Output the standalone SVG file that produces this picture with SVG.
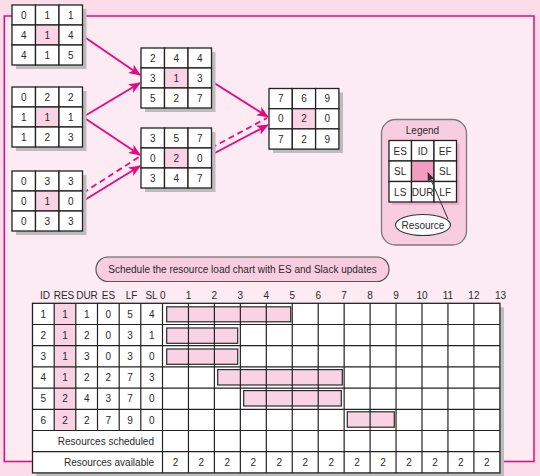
<svg xmlns="http://www.w3.org/2000/svg" width="540" height="476" viewBox="0 0 540 476">
<defs>
<style>
text{font-family:"Liberation Sans",Arial,sans-serif;font-size:10px;fill:#2a2a2a;text-anchor:middle}
.cell{fill:#fff;stroke:#222;stroke-width:1.3}
.mid{fill:#fad3e5;stroke:#222;stroke-width:1.3}
.shadow{fill:#bcbcbc}
.conn{stroke:#e6087f;stroke-width:1.8;fill:none}
.dash{stroke-dasharray:6 4}
.bar{fill:#f9d3e4;stroke:#2a2a2a;stroke-width:1.2}
.gl{stroke:#222;stroke-width:1.2}
</style>
<marker id="ah" markerUnits="userSpaceOnUse" markerWidth="12" markerHeight="10" viewBox="0 0 12 10" refX="11" refY="5" orient="auto">
<path d="M0,0 L12,5 L0,10 L3,5 Z" fill="#e6087f"/>
</marker>
<marker id="ahd" markerUnits="userSpaceOnUse" markerWidth="10" markerHeight="8" viewBox="0 0 10 8" refX="9" refY="4" orient="auto">
<path d="M0,0 L10,4 L0,8 L2.5,4 Z" fill="#333"/>
</marker>
</defs>
<rect x="0" y="0" width="540" height="476" fill="#fbdde9"/>
<rect x="4.3" y="16" width="529.7" height="445.5" fill="#fdebf3" stroke="#e6087f" stroke-width="1.5"/>

<g id="connectors">
<line class="conn" x1="83" y1="36" x2="140" y2="75" marker-end="url(#ah)"/>
<line class="conn" x1="83" y1="117" x2="140" y2="83" marker-end="url(#ah)"/>
<line class="conn" x1="83" y1="117" x2="140" y2="155" marker-end="url(#ah)"/>
<line class="conn dash" x1="83" y1="193" x2="139" y2="157"/>
<line class="conn" x1="83" y1="201" x2="140" y2="166" marker-end="url(#ah)"/>
<line class="conn" x1="211" y1="81" x2="268" y2="117" marker-end="url(#ah)"/>
<line class="conn dash" x1="211" y1="148" x2="267" y2="118"/>
<line class="conn" x1="211" y1="155" x2="268" y2="125" marker-end="url(#ah)"/>
</g>

<g id="node1">
<rect class="shadow" x="16" y="9" width="70.5" height="60"/>
<rect class="cell" x="12" y="5" width="23.5" height="20"/><rect class="cell" x="35.5" y="5" width="23.5" height="20"/><rect class="cell" x="59" y="5" width="23.5" height="20"/>
<rect class="cell" x="12" y="25" width="23.5" height="20"/><rect class="mid" x="35.5" y="25" width="23.5" height="20"/><rect class="cell" x="59" y="25" width="23.5" height="20"/>
<rect class="cell" x="12" y="45" width="23.5" height="20"/><rect class="cell" x="35.5" y="45" width="23.5" height="20"/><rect class="cell" x="59" y="45" width="23.5" height="20"/>
<text x="23.8" y="18.6">0</text><text x="47.3" y="18.6">1</text><text x="70.8" y="18.6">1</text>
<text x="23.8" y="38.6">4</text><text x="47.3" y="38.6">1</text><text x="70.8" y="38.6">4</text>
<text x="23.8" y="58.6">4</text><text x="47.3" y="58.6">1</text><text x="70.8" y="58.6">5</text>
</g>

<g id="node2">
<rect class="shadow" x="16" y="91" width="70.5" height="60"/>
<rect class="cell" x="12" y="87" width="23.5" height="20"/><rect class="cell" x="35.5" y="87" width="23.5" height="20"/><rect class="cell" x="59" y="87" width="23.5" height="20"/>
<rect class="cell" x="12" y="107" width="23.5" height="20"/><rect class="mid" x="35.5" y="107" width="23.5" height="20"/><rect class="cell" x="59" y="107" width="23.5" height="20"/>
<rect class="cell" x="12" y="127" width="23.5" height="20"/><rect class="cell" x="35.5" y="127" width="23.5" height="20"/><rect class="cell" x="59" y="127" width="23.5" height="20"/>
<text x="23.8" y="100.6">0</text><text x="47.3" y="100.6">2</text><text x="70.8" y="100.6">2</text>
<text x="23.8" y="120.6">1</text><text x="47.3" y="120.6">1</text><text x="70.8" y="120.6">1</text>
<text x="23.8" y="140.6">1</text><text x="47.3" y="140.6">2</text><text x="70.8" y="140.6">3</text>
</g>

<g id="node3">
<rect class="shadow" x="16" y="175" width="70.5" height="60"/>
<rect class="cell" x="12" y="171" width="23.5" height="20"/><rect class="cell" x="35.5" y="171" width="23.5" height="20"/><rect class="cell" x="59" y="171" width="23.5" height="20"/>
<rect class="cell" x="12" y="191" width="23.5" height="20"/><rect class="mid" x="35.5" y="191" width="23.5" height="20"/><rect class="cell" x="59" y="191" width="23.5" height="20"/>
<rect class="cell" x="12" y="211" width="23.5" height="20"/><rect class="cell" x="35.5" y="211" width="23.5" height="20"/><rect class="cell" x="59" y="211" width="23.5" height="20"/>
<text x="23.8" y="184.6">0</text><text x="47.3" y="184.6">3</text><text x="70.8" y="184.6">3</text>
<text x="23.8" y="204.6">0</text><text x="47.3" y="204.6">1</text><text x="70.8" y="204.6">0</text>
<text x="23.8" y="224.6">0</text><text x="47.3" y="224.6">3</text><text x="70.8" y="224.6">3</text>
</g>

<g id="node4">
<rect class="shadow" x="145" y="52" width="70.5" height="60"/>
<rect class="cell" x="141" y="48" width="23.5" height="20"/><rect class="cell" x="164.5" y="48" width="23.5" height="20"/><rect class="cell" x="188" y="48" width="23.5" height="20"/>
<rect class="cell" x="141" y="68" width="23.5" height="20"/><rect class="mid" x="164.5" y="68" width="23.5" height="20"/><rect class="cell" x="188" y="68" width="23.5" height="20"/>
<rect class="cell" x="141" y="88" width="23.5" height="20"/><rect class="cell" x="164.5" y="88" width="23.5" height="20"/><rect class="cell" x="188" y="88" width="23.5" height="20"/>
<text x="152.8" y="61.6">2</text><text x="176.3" y="61.6">4</text><text x="199.8" y="61.6">4</text>
<text x="152.8" y="81.6">3</text><text x="176.3" y="81.6">1</text><text x="199.8" y="81.6">3</text>
<text x="152.8" y="101.6">5</text><text x="176.3" y="101.6">2</text><text x="199.8" y="101.6">7</text>
</g>

<g id="node5">
<rect class="shadow" x="145" y="132" width="70.5" height="60"/>
<rect class="cell" x="141" y="128" width="23.5" height="20"/><rect class="cell" x="164.5" y="128" width="23.5" height="20"/><rect class="cell" x="188" y="128" width="23.5" height="20"/>
<rect class="cell" x="141" y="148" width="23.5" height="20"/><rect class="mid" x="164.5" y="148" width="23.5" height="20"/><rect class="cell" x="188" y="148" width="23.5" height="20"/>
<rect class="cell" x="141" y="168" width="23.5" height="20"/><rect class="cell" x="164.5" y="168" width="23.5" height="20"/><rect class="cell" x="188" y="168" width="23.5" height="20"/>
<text x="152.8" y="141.6">3</text><text x="176.3" y="141.6">5</text><text x="199.8" y="141.6">7</text>
<text x="152.8" y="161.6">0</text><text x="176.3" y="161.6">2</text><text x="199.8" y="161.6">0</text>
<text x="152.8" y="181.6">3</text><text x="176.3" y="181.6">4</text><text x="199.8" y="181.6">7</text>
</g>

<g id="node6">
<rect class="shadow" x="273" y="92.5" width="70" height="60.5"/>
<rect class="cell" x="269" y="88.5" width="23.3" height="20.2"/><rect class="cell" x="292.3" y="88.5" width="23.3" height="20.2"/><rect class="cell" x="315.6" y="88.5" width="23.3" height="20.2"/>
<rect class="cell" x="269" y="108.7" width="23.3" height="20.2"/><rect class="mid" x="292.3" y="108.7" width="23.3" height="20.2"/><rect class="cell" x="315.6" y="108.7" width="23.3" height="20.2"/>
<rect class="cell" x="269" y="128.9" width="23.3" height="20.2"/><rect class="cell" x="292.3" y="128.9" width="23.3" height="20.2"/><rect class="cell" x="315.6" y="128.9" width="23.3" height="20.2"/>
<text x="280.7" y="102.2">7</text><text x="304" y="102.2">6</text><text x="327.3" y="102.2">9</text>
<text x="280.7" y="122.4">0</text><text x="304" y="122.4">2</text><text x="327.3" y="122.4">0</text>
<text x="280.7" y="142.6">7</text><text x="304" y="142.6">2</text><text x="327.3" y="142.6">9</text>
</g>

<g id="legend">
<rect x="381.5" y="119.5" width="85" height="125.5" rx="14" fill="#f9cde0" stroke="#7a7a7a" stroke-width="1.3"/>
<text x="422.5" y="134">Legend</text>
<rect x="392" y="143.5" width="67.5" height="61.5" fill="#f4aac9"/>
<rect class="cell" x="389" y="140.5" width="22.5" height="20.5"/><rect class="cell" x="411.5" y="140.5" width="22.5" height="20.5"/><rect class="cell" x="434" y="140.5" width="22.5" height="20.5"/>
<rect class="cell" x="389" y="161" width="22.5" height="20.5"/><rect x="411.5" y="161" width="22.5" height="20.5" fill="#f49bc0" stroke="#222" stroke-width="1.3"/><rect class="cell" x="434" y="161" width="22.5" height="20.5"/>
<rect class="cell" x="389" y="181.5" width="22.5" height="20.5"/><rect class="cell" x="411.5" y="181.5" width="22.5" height="20.5"/><rect class="cell" x="434" y="181.5" width="22.5" height="20.5"/>
<text x="400.2" y="154.5">ES</text><text x="422.7" y="154.5">ID</text><text x="445.2" y="154.5">EF</text>
<text x="400.2" y="175">SL</text><text x="445.2" y="175">SL</text>
<text x="400.2" y="195.5">LS</text><text x="422.7" y="195.5">DUR</text><text x="445.2" y="195.5">LF</text>
<line x1="448" y1="219" x2="428" y2="173" stroke="#333" stroke-width="1" marker-end="url(#ahd)"/>
<ellipse cx="423" cy="225" rx="27.5" ry="10.5" fill="#fff" stroke="#333" stroke-width="1.1"/>
<text x="423" y="228.5">Resource</text>
</g>

<g id="banner">
<rect x="96" y="257" width="293" height="24.5" rx="12" fill="#f9cde0" stroke="#555" stroke-width="1.2"/>
<text x="242.5" y="273">Schedule the resource load chart with ES and Slack updates</text>
</g>

<g id="table">
<rect class="shadow" x="36.5" y="307.3" width="467.5" height="169.6"/>
<rect x="32.5" y="303.3" width="467.4" height="169.6" fill="#fff"/>
<rect x="54.2" y="303.3" width="21.7" height="127.2" fill="#f9d3e4"/>
<rect class="bar" x="166.7" y="306.8" width="124" height="15"/>
<rect class="bar" x="166.7" y="328" width="71" height="15.3"/>
<rect class="bar" x="166.7" y="349" width="71" height="15.3"/>
<rect class="bar" x="217.7" y="369.6" width="124.6" height="15.4"/>
<rect class="bar" x="243.7" y="390.6" width="97.6" height="15.4"/>
<rect class="bar" x="347.3" y="411.8" width="47" height="15.4"/>
<g class="gl">
<line x1="32.5" y1="324.5" x2="499.9" y2="324.5"/>
<line x1="32.5" y1="345.7" x2="499.9" y2="345.7"/>
<line x1="32.5" y1="366.9" x2="499.9" y2="366.9"/>
<line x1="32.5" y1="388.1" x2="499.9" y2="388.1"/>
<line x1="32.5" y1="409.3" x2="499.9" y2="409.3"/>
<line x1="32.5" y1="430.5" x2="499.9" y2="430.5"/>
<line x1="32.5" y1="451.7" x2="499.9" y2="451.7"/>
<line x1="54.2" y1="303.3" x2="54.2" y2="430.5"/>
<line x1="75.8" y1="303.3" x2="75.8" y2="430.5"/>
<line x1="97.5" y1="303.3" x2="97.5" y2="430.5"/>
<line x1="119.2" y1="303.3" x2="119.2" y2="430.5"/>
<line x1="140.8" y1="303.3" x2="140.8" y2="430.5"/>
<line x1="162.5" y1="303.3" x2="162.5" y2="472.9"/>
<line x1="188.45" y1="303.3" x2="188.45" y2="472.9"/>
<line x1="214.4" y1="303.3" x2="214.4" y2="472.9"/>
<line x1="240.35" y1="303.3" x2="240.35" y2="472.9"/>
<line x1="266.3" y1="303.3" x2="266.3" y2="472.9"/>
<line x1="292.25" y1="303.3" x2="292.25" y2="472.9"/>
<line x1="318.2" y1="303.3" x2="318.2" y2="472.9"/>
<line x1="344.15" y1="303.3" x2="344.15" y2="472.9"/>
<line x1="370.1" y1="303.3" x2="370.1" y2="472.9"/>
<line x1="396.05" y1="303.3" x2="396.05" y2="472.9"/>
<line x1="422" y1="303.3" x2="422" y2="472.9"/>
<line x1="447.95" y1="303.3" x2="447.95" y2="472.9"/>
<line x1="473.9" y1="303.3" x2="473.9" y2="472.9"/>
</g>
<rect x="32.5" y="303.3" width="467.4" height="169.6" fill="none" stroke="#222" stroke-width="1.3"/>
<text x="45" y="298.5">ID</text><text x="64" y="298.5">RES</text><text x="87" y="298.5">DUR</text><text x="108.5" y="298.5">ES</text><text x="131.5" y="298.5">LF</text><text x="151.5" y="298.5">SL</text>
<text x="162.7" y="298.5">0</text><text x="188.45" y="298.5">1</text><text x="214.4" y="298.5">2</text><text x="240.35" y="298.5">3</text><text x="266.3" y="298.5">4</text><text x="292.25" y="298.5">5</text><text x="318.2" y="298.5">6</text><text x="344.15" y="298.5">7</text><text x="370.1" y="298.5">8</text><text x="396.05" y="298.5">9</text><text x="422" y="298.5">10</text><text x="447.95" y="298.5">11</text><text x="473.9" y="298.5">12</text><text x="500.5" y="298.5">13</text>
<text x="43.3" y="317.5">1</text><text x="65" y="317.5">1</text><text x="86.7" y="317.5">1</text><text x="108.3" y="317.5">0</text><text x="130" y="317.5">5</text><text x="151.7" y="317.5">4</text>
<text x="43.3" y="338.7">2</text><text x="65" y="338.7">1</text><text x="86.7" y="338.7">2</text><text x="108.3" y="338.7">0</text><text x="130" y="338.7">3</text><text x="151.7" y="338.7">1</text>
<text x="43.3" y="359.9">3</text><text x="65" y="359.9">1</text><text x="86.7" y="359.9">3</text><text x="108.3" y="359.9">0</text><text x="130" y="359.9">3</text><text x="151.7" y="359.9">0</text>
<text x="43.3" y="381.1">4</text><text x="65" y="381.1">1</text><text x="86.7" y="381.1">2</text><text x="108.3" y="381.1">2</text><text x="130" y="381.1">7</text><text x="151.7" y="381.1">3</text>
<text x="43.3" y="402.3">5</text><text x="65" y="402.3">2</text><text x="86.7" y="402.3">4</text><text x="108.3" y="402.3">3</text><text x="130" y="402.3">7</text><text x="151.7" y="402.3">0</text>
<text x="43.3" y="423.5">6</text><text x="65" y="423.5">2</text><text x="86.7" y="423.5">2</text><text x="108.3" y="423.5">7</text><text x="130" y="423.5">9</text><text x="151.7" y="423.5">0</text>
<text x="154" y="444.6" style="text-anchor:end">Resources scheduled</text>
<text x="154" y="465.6" style="text-anchor:end">Resources available</text>
<text x="175.5" y="465.6">2</text><text x="201.4" y="465.6">2</text><text x="227.4" y="465.6">2</text><text x="253.3" y="465.6">2</text><text x="279.3" y="465.6">2</text><text x="305.2" y="465.6">2</text><text x="331.2" y="465.6">2</text><text x="357.1" y="465.6">2</text><text x="383.1" y="465.6">2</text><text x="409" y="465.6">2</text><text x="435" y="465.6">2</text><text x="460.9" y="465.6">2</text><text x="486.9" y="465.6">2</text>
</g>
</svg>
